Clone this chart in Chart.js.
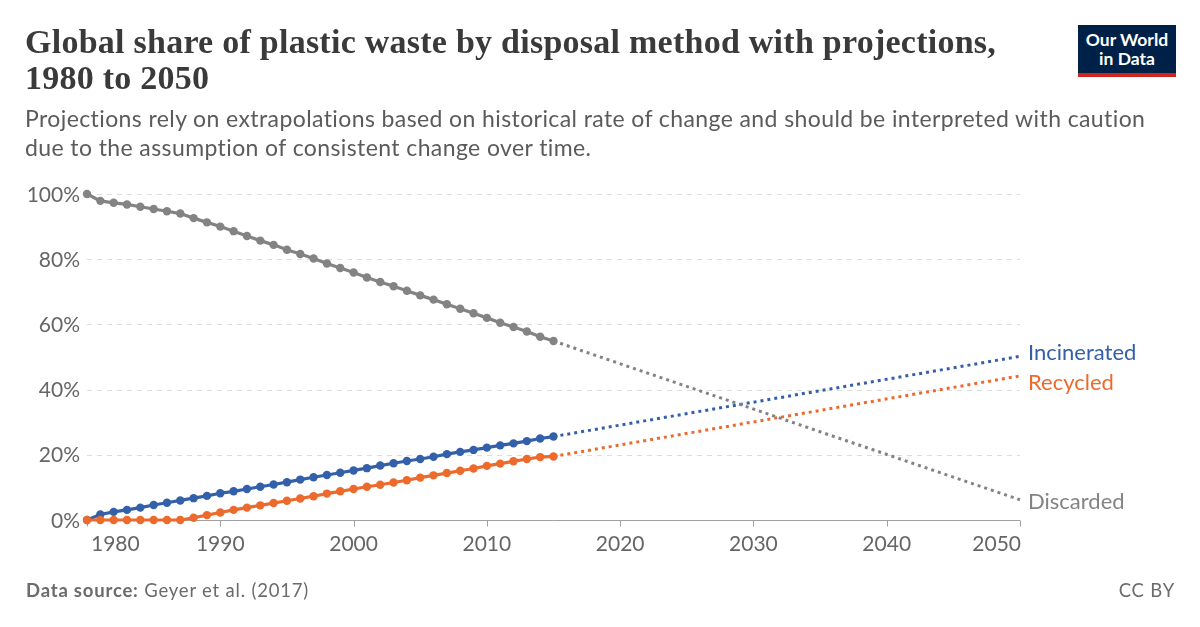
<!DOCTYPE html>
<html><head><meta charset="utf-8">
<script src="https://cdn.jsdelivr.net/npm/chart.js@4/dist/chart.umd.min.js"></script>
<style>
html,body{margin:0;padding:0;background:#fff;width:1200px;height:627px;overflow:hidden;}
#wrap{position:relative;width:1200px;height:627px;}
#c{position:absolute;left:0;top:0;}
.title{position:absolute;left:25px;top:24px;font-family:"Liberation Serif","DejaVu Serif",serif;font-weight:bold;font-size:34px;line-height:36px;letter-spacing:0.25px;color:#3a3a3a;white-space:nowrap;}
.sub{position:absolute;left:25px;top:104px;font-family:Lato,"Noto Sans",sans-serif;font-size:23px;line-height:29px;letter-spacing:0.4px;color:#5b5b5b;white-space:nowrap;}
.foot{position:absolute;left:26px;top:579px;font-family:Lato,sans-serif;font-size:18.5px;line-height:22px;letter-spacing:0.8px;color:#6b6b6b;white-space:nowrap;}
.foot b{font-weight:bold;}
.cc{position:absolute;right:25px;top:579px;font-family:Lato,sans-serif;font-size:18.5px;line-height:22px;letter-spacing:0.8px;color:#6b6b6b;}
.logo{position:absolute;left:1078px;top:25px;width:98px;background:#002147;border-bottom:4px solid #ce261e;color:#fff;font-family:Lato,sans-serif;font-weight:bold;font-size:17.5px;line-height:19px;text-align:center;padding-top:5px;height:43px;}
</style></head>
<body><div id="wrap">
<canvas id="c" width="1200" height="627"></canvas>
<div class="title">Global share of plastic waste by disposal method with projections,<br>1980 to 2050</div>
<div class="sub">Projections rely on extrapolations based on historical rate of change and should be interpreted with caution<br>due to the assumption of consistent change over time.</div>
<div class="logo">Our World<br>in Data</div>
<div class="foot"><b>Data source:</b> Geyer et al. (2017)</div>
<div class="cc">CC BY</div>
</div>
<script>
const years = [1980,1981,1982,1983,1984,1985,1986,1987,1988,1989,1990,1991,1992,1993,1994,1995,1996,1997,1998,1999,2000,2001,2002,2003,2004,2005,2006,2007,2008,2009,2010,2011,2012,2013,2014,2015];
const discarded = [100,97.9,97.3,96.8,96.1,95.4,94.7,94.0,92.6,91.3,90.0,88.6,87.1,85.7,84.4,82.9,81.6,80.2,78.7,77.3,75.9,74.4,73.0,71.7,70.3,68.9,67.6,66.2,64.8,63.4,62.0,60.5,59.2,57.8,56.2,54.9];
const incinerated = [0,1.7,2.5,3.1,3.8,4.6,5.3,6.0,6.7,7.4,8.2,8.8,9.5,10.2,10.9,11.6,12.4,13.1,13.8,14.5,15.2,15.9,16.7,17.4,18.1,18.7,19.4,20.2,20.9,21.5,22.2,22.9,23.5,24.2,25.0,25.6];
const recycled = [0,0,0,0,0,0,0,0,0.7,1.5,2.3,3.1,3.8,4.5,5.2,5.9,6.6,7.3,8.1,8.8,9.5,10.2,10.8,11.5,12.2,13.0,13.7,14.4,15.1,15.8,16.6,17.3,18.0,18.7,19.3,19.5];
const projYears = [2015,2050];
const discardedProj = [54.9,6.2];
const incineratedProj = [25.6,50.2];
const recycledProj = [19.5,44.2];
const xTicks = [1980,1990,2000,2010,2020,2030,2040,2050];
const yTicks = [0,20,40,60,80,100];
const seriesNames = ['Incinerated','Recycled','Discarded'];

const COL = {Incinerated:'#3360a9', Recycled:'#ed6a2d', Discarded:'#838383'};
const pts = (xs, ys) => xs.map((x,i)=>({x, y: ys[i]}));
function hist(label, ys){return {label, data: pts(years, ys), borderColor: COL[label], backgroundColor: COL[label], borderWidth: 3.2, pointRadius: 4.2, pointBorderWidth: 0, pointBackgroundColor: COL[label], tension: 0, clip: false};}
function proj(label, ys){return {label: label+' (projection)', data: pts(projYears, ys), borderColor: COL[label], borderWidth: 3, borderDash: [3,4], pointRadius: 0, tension: 0, clip: false};}

const axisPlugin = {
  id: 'owidAxes',
  beforeDatasetsDraw(chart){
    const {ctx, chartArea: a, scales:{x, y}} = chart;
    ctx.save();
    ctx.lineWidth = 1;
    ctx.strokeStyle = '#dddddd';
    ctx.setLineDash([5,5]);
    yTicks.forEach(v => { if (v === 0) return; const py = Math.round(y.getPixelForValue(v)) + 0.5; ctx.beginPath(); ctx.moveTo(a.left, py); ctx.lineTo(a.right, py); ctx.stroke(); });
    ctx.setLineDash([]);
    ctx.strokeStyle = '#a0a0a0';
    const by = Math.round(y.getPixelForValue(0)) + 0.5;
    ctx.beginPath(); ctx.moveTo(a.left, by); ctx.lineTo(a.right, by); ctx.stroke();
    xTicks.forEach(v => { const px = Math.round(x.getPixelForValue(v)) + 0.5; ctx.beginPath(); ctx.moveTo(px, by); ctx.lineTo(px, by + 6); ctx.stroke(); });
    ctx.fillStyle = '#666666';
    ctx.font = '21px Lato, sans-serif';
    ctx.textAlign = 'right';
    ctx.textBaseline = 'alphabetic';
    yTicks.forEach(v => { ctx.fillText(v + '%', a.left - 7, y.getPixelForValue(v) + 7.5); });
    xTicks.forEach((v,i) => {
      const px = x.getPixelForValue(v);
      if (i === 0) { ctx.textAlign = 'left'; ctx.fillText(String(v), px + 4, by + 30.5); }
      else if (i === xTicks.length - 1) { ctx.textAlign = 'right'; ctx.fillText(String(v), px + 1, by + 30.5); }
      else { ctx.textAlign = 'center'; ctx.fillText(String(v), px, by + 30.5); }
    });
    ctx.restore();
  },
  afterDatasetsDraw(chart){
    const {ctx, chartArea: a, scales:{y}} = chart;
    const ends = {Incinerated: incineratedProj[1], Recycled: recycledProj[1], Discarded: discardedProj[1]};
    const adj = {Incinerated: -4, Recycled: 6.6, Discarded: 1.7};
    ctx.save();
    ctx.font = '22px Lato, sans-serif';
    ctx.textAlign = 'left';
    ctx.textBaseline = 'alphabetic';
    seriesNames.forEach(n => {
      ctx.fillStyle = COL[n];
      ctx.fillText(n, a.right + 8, y.getPixelForValue(ends[n]) + adj[n] + 7.9);
    });
    ctx.restore();
  }
};

new Chart(document.getElementById('c'), {
  type: 'line',
  data: { datasets: [
    proj('Discarded', discardedProj), proj('Incinerated', incineratedProj), proj('Recycled', recycledProj),
    hist('Discarded', discarded), hist('Recycled', recycled), hist('Incinerated', incinerated)
  ]},
  options: {
    responsive: false, animation: false, events: [],
    layout: { padding: { left: 87, right: 180, top: 194, bottom: 107 } },
    plugins: { legend: { display: false }, tooltip: { enabled: false } },
    scales: {
      x: { type: 'linear', min: 1980, max: 2050, display: false },
      y: { type: 'linear', min: 0, max: 100, display: false }
    }
  },
  plugins: [axisPlugin]
});
</script>
</body></html>
